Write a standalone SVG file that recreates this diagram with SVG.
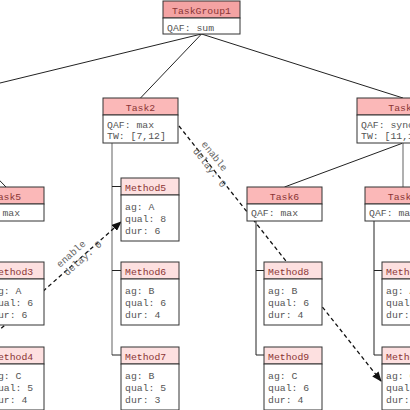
<svg xmlns="http://www.w3.org/2000/svg" width="410" height="410" viewBox="0 0 410 410">
<style>
text{font-family:"Liberation Mono","DejaVu Sans Mono",monospace;font-size:9.8px}
.box{fill:#fff;stroke:#333;stroke-width:1}
.th{fill:#fbb8b8;stroke:#333;stroke-width:1}
.gh{fill:#f4a3a3;stroke:#333;stroke-width:1}
.mh{fill:#fde0e0;stroke:#333;stroke-width:1}
.ht{fill:#8a3434}
.bt{fill:#555}
.edge{stroke:#222;stroke-width:1;fill:none}
.gray{stroke:#b0b0b0;stroke-width:2;fill:none}
.dash{stroke:#111;stroke-width:1.3;stroke-dasharray:4 3;fill:none}
.lbl{fill:#666}
</style>
<defs>
<marker id="arr" markerWidth="10" markerHeight="8" refX="9" refY="4" orient="auto" markerUnits="userSpaceOnUse">
<path d="M0,0 L10,4 L0,8 Z" fill="#111"/>
</marker>
</defs>
<g id="connectors">
<line class="edge" x1="201.5" y1="34" x2="-60" y2="97.6"/>
<line class="edge" x1="201.5" y1="34" x2="140.5" y2="98"/>
<line class="edge" x1="201.5" y1="34" x2="403" y2="98"/>
<line class="edge" x1="-30" y1="150" x2="6" y2="187"/>
<line class="edge" x1="403" y1="143" x2="284.5" y2="187"/>
<line class="gray" x1="403" y1="143" x2="403" y2="187"/>
<path class="gray" d="M112,143 V355"/>
<path class="edge" d="M112,186.5 H121 M112,270.5 H121 M112,355 H121"/>
<path class="edge" d="M256,221 V355 H264 M256,270.5 H264"/>
<path class="edge" d="M374,221 V355 H382 M374,270.5 H382"/>
<path class="edge" d="M-5,221 V355 H-14 M-5,270.5 H-14"/>
<line class="dash" x1="179" y1="126" x2="381" y2="381" marker-end="url(#arr)"/>
<line class="dash" x1="-4" y1="333" x2="121" y2="222" marker-end="url(#arr)"/>
<g transform="translate(201.1,144.3) rotate(51.6)"><text class="lbl" x="0" y="0">enable</text><text class="lbl" x="0" y="11">delay: 0</text></g>
<g transform="translate(60,268) rotate(-41.6)"><text class="lbl" x="0" y="0">enable</text><text class="lbl" x="0" y="11">delay: 0</text></g>
</g>
<g id="TaskGroup1">
<rect class="gh" x="163" y="1" width="77" height="17"/>
<rect class="box" x="163" y="18" width="77" height="16"/>
<text class="ht" x="201.5" y="14" text-anchor="middle">TaskGroup1</text>
<text class="bt" x="167" y="30.5">QAF: sum</text>
</g>
<g id="Task2">
<rect class="th" x="103" y="98" width="75" height="17"/>
<rect class="box" x="103" y="115" width="75" height="28"/>
<text class="ht" x="140.5" y="111" text-anchor="middle">Task2</text>
<text class="bt" x="107" y="127.5">QAF: max</text>
<text class="bt" x="107" y="139">TW: [7,12]</text>
</g>
<g id="Task3">
<rect class="th" x="357" y="98" width="92" height="17"/>
<rect class="box" x="357" y="115" width="92" height="28"/>
<text class="ht" x="403" y="111" text-anchor="middle">Task3</text>
<text class="bt" x="361" y="127.5">QAF: sync_sum</text>
<text class="bt" x="361" y="139">TW: [11,18]</text>
</g>
<g id="Task5">
<rect class="th" x="-31" y="187" width="75" height="17"/>
<rect class="box" x="-31" y="204" width="75" height="17"/>
<text class="ht" x="6.5" y="199.5" text-anchor="middle">Task5</text>
<text class="bt" x="-27" y="216">QAF: max</text>
</g>
<g id="Task6">
<rect class="th" x="247" y="187" width="75" height="17"/>
<rect class="box" x="247" y="204" width="75" height="17"/>
<text class="ht" x="284.5" y="199.5" text-anchor="middle">Task6</text>
<text class="bt" x="251" y="216">QAF: max</text>
</g>
<g id="Task7">
<rect class="th" x="365" y="187" width="75" height="17"/>
<rect class="box" x="365" y="204" width="75" height="17"/>
<text class="ht" x="402.5" y="199.5" text-anchor="middle">Task7</text>
<text class="bt" x="369" y="216">QAF: max</text>
</g>
<g id="Method3">
<rect class="mh" x="-14" y="262" width="58" height="17"/>
<rect class="box" x="-14" y="279" width="58" height="46"/>
<text class="ht" x="-8" y="275">Method3</text>
<text class="bt" x="-8" y="293.5">ag: A</text>
<text class="bt" x="-8" y="305.5">qual: 6</text>
<text class="bt" x="-8" y="317.5">dur: 6</text>
</g>
<g id="Method4">
<rect class="mh" x="-14" y="347" width="58" height="17"/>
<rect class="box" x="-14" y="364" width="58" height="46"/>
<text class="ht" x="-8" y="360">Method4</text>
<text class="bt" x="-8" y="378.5">ag: C</text>
<text class="bt" x="-8" y="390.5">qual: 5</text>
<text class="bt" x="-8" y="402.5">dur: 4</text>
</g>
<g id="Method5">
<rect class="mh" x="121" y="178" width="58" height="17"/>
<rect class="box" x="121" y="195" width="58" height="46"/>
<text class="ht" x="125" y="191">Method5</text>
<text class="bt" x="125" y="209.5">ag: A</text>
<text class="bt" x="125" y="221.5">qual: 8</text>
<text class="bt" x="125" y="233.5">dur: 6</text>
</g>
<g id="Method6">
<rect class="mh" x="121" y="262" width="58" height="17"/>
<rect class="box" x="121" y="279" width="58" height="46"/>
<text class="ht" x="125" y="275">Method6</text>
<text class="bt" x="125" y="293.5">ag: B</text>
<text class="bt" x="125" y="305.5">qual: 6</text>
<text class="bt" x="125" y="317.5">dur: 4</text>
</g>
<g id="Method7">
<rect class="mh" x="121" y="347" width="58" height="17"/>
<rect class="box" x="121" y="364" width="58" height="46"/>
<text class="ht" x="125" y="360">Method7</text>
<text class="bt" x="125" y="378.5">ag: B</text>
<text class="bt" x="125" y="390.5">qual: 5</text>
<text class="bt" x="125" y="402.5">dur: 3</text>
</g>
<g id="Method8">
<rect class="mh" x="264" y="262" width="58" height="17"/>
<rect class="box" x="264" y="279" width="58" height="46"/>
<text class="ht" x="268" y="275">Method8</text>
<text class="bt" x="268" y="293.5">ag: B</text>
<text class="bt" x="268" y="305.5">qual: 6</text>
<text class="bt" x="268" y="317.5">dur: 4</text>
</g>
<g id="Method9">
<rect class="mh" x="264" y="347" width="58" height="17"/>
<rect class="box" x="264" y="364" width="58" height="46"/>
<text class="ht" x="268" y="360">Method9</text>
<text class="bt" x="268" y="378.5">ag: C</text>
<text class="bt" x="268" y="390.5">qual: 6</text>
<text class="bt" x="268" y="402.5">dur: 4</text>
</g>
<g id="Method10">
<rect class="mh" x="382" y="262" width="58" height="17"/>
<rect class="box" x="382" y="279" width="58" height="46"/>
<text class="ht" x="386" y="275">Method10</text>
<text class="bt" x="386" y="293.5">ag: A</text>
<text class="bt" x="386" y="305.5">qual: 6</text>
<text class="bt" x="386" y="317.5">dur: 4</text>
</g>
<g id="Method11">
<rect class="mh" x="382" y="347" width="58" height="17"/>
<rect class="box" x="382" y="364" width="58" height="46"/>
<text class="ht" x="386" y="360">Method11</text>
<text class="bt" x="386" y="378.5">ag: C</text>
<text class="bt" x="386" y="390.5">qual: 5</text>
<text class="bt" x="386" y="402.5">dur: 4</text>
</g>
</svg>
